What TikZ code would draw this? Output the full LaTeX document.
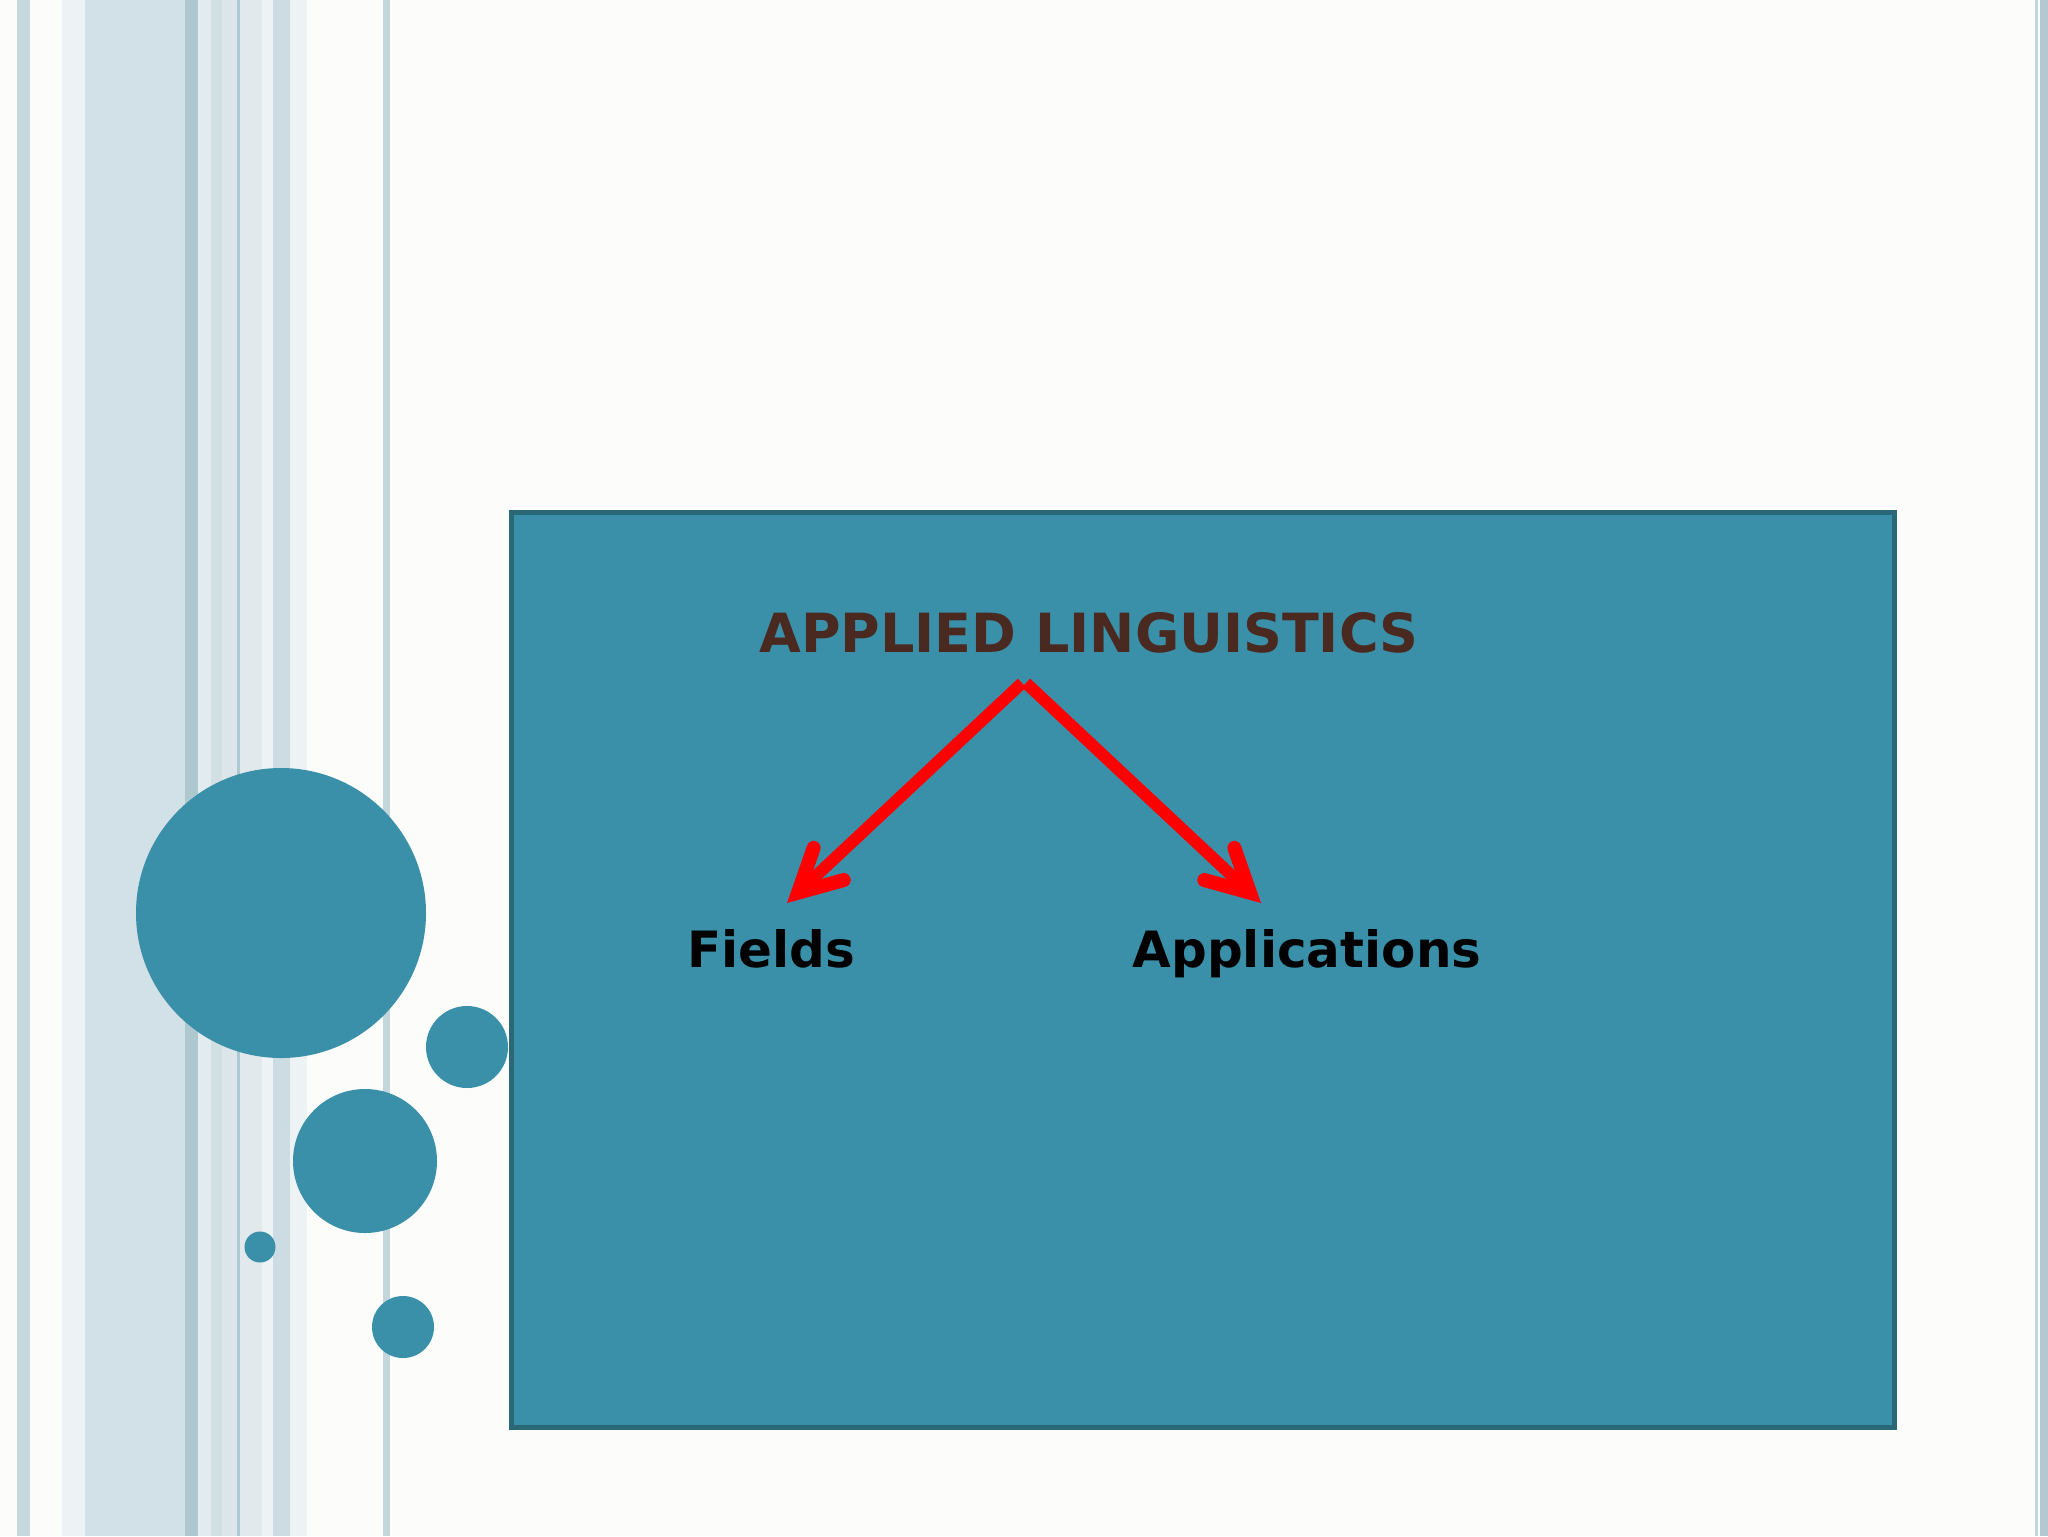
\documentclass[tikz,border=0pt]{standalone}
\usepackage{fontspec}
\setmainfont{DejaVu Sans}
\usetikzlibrary{arrows.meta}
\definecolor{bgc}{HTML}{FCFDFB}
\definecolor{sA}{HTML}{C5D8DB}
\definecolor{sB}{HTML}{EDF2F4}
\definecolor{sC}{HTML}{D2E0E7}
\definecolor{sD}{HTML}{ADC8CF}
\definecolor{sE}{HTML}{E2EBEE}
\definecolor{sF}{HTML}{D3E0E3}
\definecolor{sG}{HTML}{DCE5EA}
\definecolor{sH}{HTML}{E1E9EC}
\definecolor{sI}{HTML}{CDDCE2}
\definecolor{sJ}{HTML}{C2D6DC}
\definecolor{sK}{HTML}{B3C8D1}
\definecolor{teal}{HTML}{3A90A8}
\definecolor{tealdark}{HTML}{2A6878}
\definecolor{brownt}{HTML}{4A2A20}
\tikzset{
  stripe/.style={fill=#1, draw=none},
  bubble/.style={fill=teal, draw=none},
  arr/.style={draw=red, line width=6pt, line cap=butt,
    -{Straight Barb[length=21pt,width=22pt,line width=7pt,line cap=round,line join=miter]}},
  title/.style={font=\bfseries\fontsize{27}{31}\selectfont, text=brownt, inner sep=0pt},
  lbl/.style={font=\bfseries\fontsize{25}{29}\selectfont, text=black, inner sep=0pt}
}
\begin{document}
\begin{tikzpicture}[x=0.5pt,y=-0.5pt]
\useasboundingbox (0,0) rectangle (2048,1536);
\fill[bgc] (0,0) rectangle (2048,1536);
% left stripes
\path[stripe=sA] (17,0) rectangle (30,1536);
\path[stripe=sB] (62,0) rectangle (85,1536);
\path[stripe=sC] (85,0) rectangle (185,1536);
\path[stripe=sD] (185,0) rectangle (198,1536);
\path[stripe=sE] (198,0) rectangle (211,1536);
\path[stripe=sF] (211,0) rectangle (222,1536);
\path[stripe=sG] (222,0) rectangle (237,1536);
\path[stripe=sD] (237,0) rectangle (240,1536);
\path[stripe=sH] (240,0) rectangle (262,1536);
\path[stripe=sB] (262,0) rectangle (273,1536);
\path[stripe=sI] (273,0) rectangle (290,1536);
\path[stripe=sB] (290,0) rectangle (307,1536);
\path[stripe=sJ] (383,0) rectangle (390,1536);
% right stripes
\path[stripe=sJ] (2035,0) rectangle (2038,1536);
\path[stripe=sK] (2040,0) rectangle (2048,1536);
% bubbles
\path[bubble] (281,913) circle (145);
\path[bubble] (467,1047) circle (41);
\path[bubble] (365,1161) circle (72);
\path[bubble] (260,1247) circle (15.5);
\path[bubble] (403,1327) circle (31);
% main box
\draw[fill=teal, draw=tealdark, line width=2.5pt] (511.5,512.5) rectangle (1894.5,1427.5);
% texts
\node[title, anchor=base] (t) at (1089,652) {APPLIED LINGUISTICS};
\node[lbl, anchor=base] (f) at (771,967) {Fields};
\node[lbl, anchor=base] (a) at (1307,967) {Applications};
% arrows
\coordinate (apexL) at (1022,683);
\coordinate (apexR) at (1026,683);
\coordinate (tipL) at (787,903);
\coordinate (tipR) at (1261,903);
\draw[arr] (apexL) -- (tipL);
\draw[arr] (apexR) -- (tipR);
\end{tikzpicture}
\end{document}
